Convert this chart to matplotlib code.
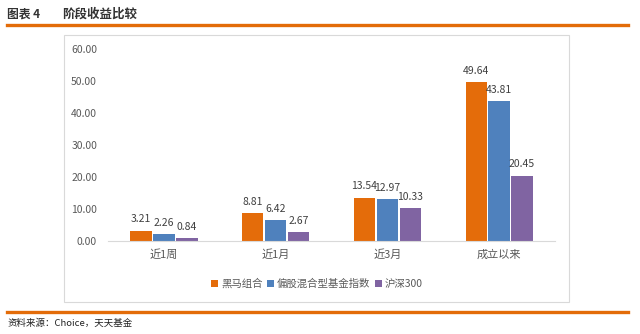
import matplotlib
matplotlib.use('Agg')
import matplotlib.pyplot as plt
import numpy as np
from matplotlib.lines import Line2D
from matplotlib.patches import Rectangle

plt.rcParams['font.family'] = ['Noto Sans CJK SC', 'DejaVu Sans']

# 数据
categories = ['近1周', '近1月', '近3月', '成立以来']
series_names = ['黑马组合', '偏股混合型基金指数', '沪深300']
heima = [3.21, 8.81, 13.54, 49.64]
pianggu = [2.26, 6.42, 12.97, 43.81]
hs300 = [0.84, 2.67, 10.33, 20.45]
yticks = [0, 10, 20, 30, 40, 50, 60]

colors = ['#E46C0A', '#4F81BD', '#8064A2']
text_gray = '#595959'
orange = '#E36C09'

fig = plt.figure(figsize=(6.4, 3.34), dpi=100)

# 标题和橙色分隔线
fig.text(0.011, 0.958, '图表 4', fontsize=8.5, fontweight='bold',
         color='#333333', va='center', ha='left')
fig.text(0.097, 0.958, '阶段收益比较', fontsize=9, fontweight='bold',
         color='#333333', va='center', ha='left')
fig.add_artist(Line2D([0.011, 0.981], [0.925, 0.925], color=orange, lw=2.4,
                      transform=fig.transFigure))
fig.add_artist(Line2D([0.011, 0.981], [0.066, 0.066], color=orange, lw=2.4,
                      transform=fig.transFigure))
fig.text(0.011, 0.033, '资料来源：Choice，天天基金', fontsize=6.8, color='#222222',
         va='center', ha='left')

# 图表外框
fig.add_artist(Rectangle((0.1, 0.0958), 0.789, 0.799, transform=fig.transFigure,
                         facecolor='none', edgecolor='#D9D9D9', lw=0.8))

ax = fig.add_axes([0.169, 0.2784, 0.698, 0.575])

x = np.arange(len(categories))
w = 0.19
step = 0.205
barras = []
for i, (vals, c, name) in enumerate(zip([heima, pianggu, hs300], colors, series_names)):
    b = ax.bar(x + (i - 1) * step, vals, width=w, color=c, label=name)
    barras.append(b)
    # 数据标签
    for barra, v in zip(b, vals):
        ax.annotate(f'{v:.2f}', (barra.get_x() + barra.get_width() / 2, barra.get_height()),
                    xytext=(0, 4.5), textcoords='offset points', ha='center', va='bottom',
                    fontsize=7.5, color='#404040')

ax.set_xlim(-0.5, len(categories) - 0.5)
ax.set_ylim(0, 60)
ax.set_yticks(yticks)
ax.set_yticklabels([f'{t:.2f}' for t in yticks], fontsize=7.5, color=text_gray)
ax.set_xticks(x)
ax.set_xticklabels(categories, fontsize=8, color=text_gray)
ax.tick_params(axis='both', length=0, pad=6)
ax.tick_params(axis='y', pad=8)

for s in ['top', 'right', 'left']:
    ax.spines[s].set_visible(False)
ax.spines['bottom'].set_color('#D9D9D9')
ax.spines['bottom'].set_linewidth(0.8)

fig.legend(handles=barras, labels=series_names, loc='center', bbox_to_anchor=(0.495, 0.150),
           ncol=3, frameon=False, fontsize=7.5, handlelength=0.7, handleheight=0.7,
           handletextpad=0.3, columnspacing=0.4, labelcolor=text_gray)

fig.savefig('out.png', dpi=100)
